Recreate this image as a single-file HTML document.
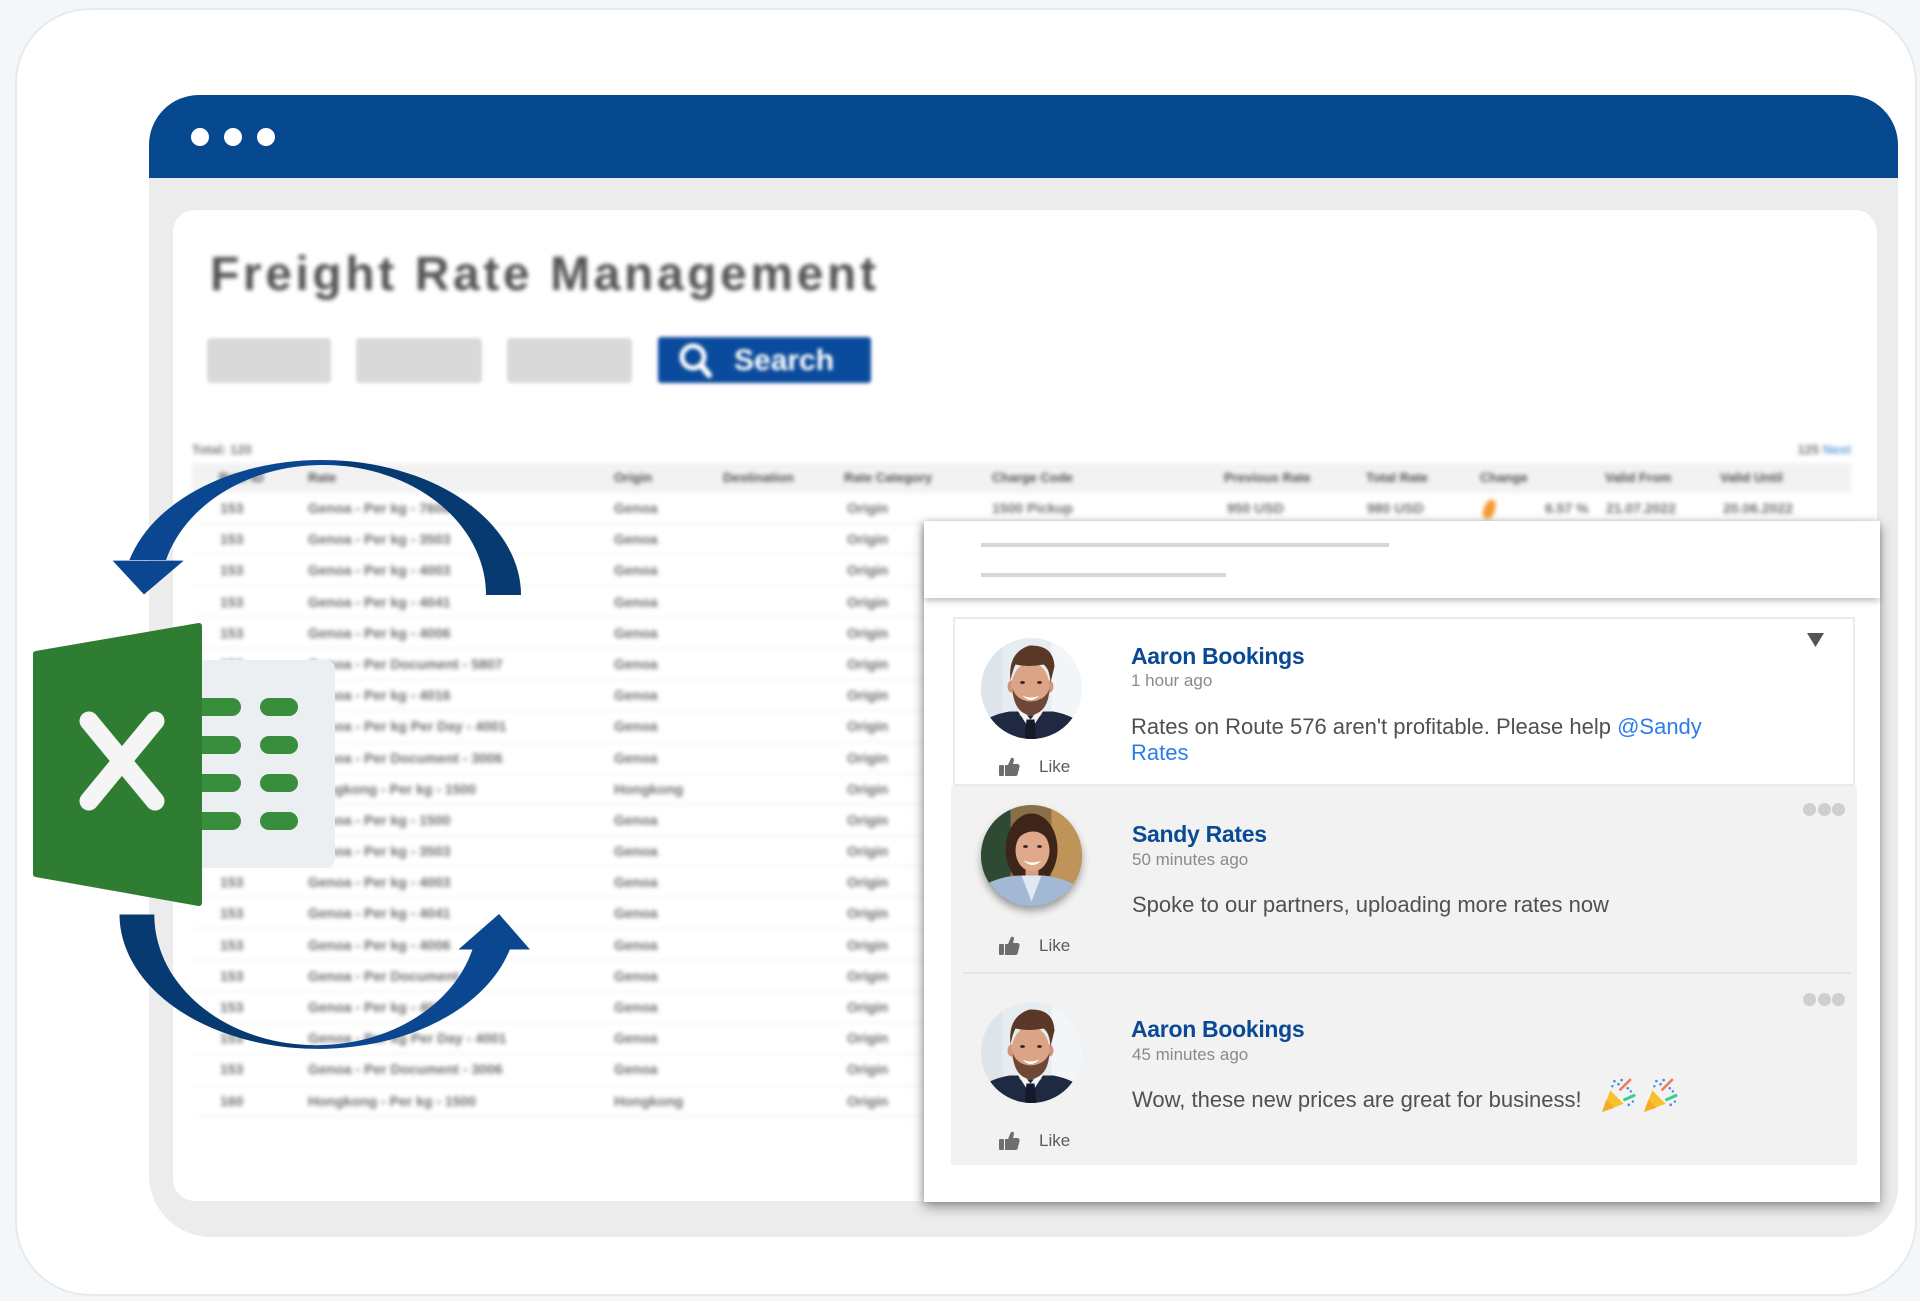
<!DOCTYPE html>
<html><head><meta charset="utf-8">
<style>
*{box-sizing:border-box;margin:0;padding:0}
html,body{width:1920px;height:1301px;overflow:hidden;background:#f4f7fa;font-family:"Liberation Sans",Arial,sans-serif;position:relative}
.a{position:absolute}
#outer{left:15px;top:8px;width:1902px;height:1288px;background:#fff;border:2px solid #e7eaed;border-radius:75px}
#body{left:149px;top:95px;width:1749px;height:1142px;background:#ececec;border-radius:50px 50px 50px 62px}
#hdr{left:149px;top:95px;width:1749px;height:83px;background:#05488e;border-radius:50px 50px 0 0}
.dot{width:18px;height:18px;border-radius:50%;background:#fff;top:128px}
#card{left:173px;top:210px;width:1704px;height:991px;background:#fff;border-radius:22px}
#title{left:210px;top:251px;font-size:48px;line-height:48px;font-weight:bold;letter-spacing:3.6px;color:#555;filter:blur(2px);white-space:nowrap}
.btn{background:#d9d9d9;border-radius:4px;height:45px;top:338px;filter:blur(1.5px)}
#search{left:658px;top:337px;width:213px;height:46px;background:#0b4b9d;border-radius:3px;filter:blur(1.8px)}
#tbl{left:192px;top:440px;width:1659px;height:700px;filter:blur(2.2px);color:#6e6e6e;font-weight:bold;font-size:14px}
#tbl .h{position:absolute;top:23px;left:0;width:1659px;height:30px;background:#f2f2f2}
#tbl .h span{position:absolute;top:0;line-height:30px;font-size:13px;color:#505050;white-space:nowrap}
.rows{position:absolute;left:0;top:53px;width:1659px}
.r{position:relative;height:31.2px;border-bottom:1px solid #ececec}
.r span{position:absolute;top:0;line-height:31px;white-space:nowrap}
.c0{left:28px}.c1{left:116px}.c2{left:422px}.c3{left:655px}
.panel{left:924px;top:521px;width:956px;height:681px;background:#fff;box-shadow:0 5px 12px rgba(0,0,0,.38),-2px 0 6px rgba(0,0,0,.15)}
.phead{left:924px;top:521px;width:956px;height:77px;background:#fff;box-shadow:0 4px 6px -1px rgba(0,0,0,.25)}
.line{background:#d6d6d6;height:4px;left:981px}
.nm{font-size:23px;line-height:23px;font-weight:bold;color:#0a4a94;letter-spacing:-0.3px;white-space:nowrap;left:1131px}
.tm{font-size:17px;line-height:17px;color:#8a8a8a;white-space:nowrap;left:1131px}
.msg{font-size:22px;line-height:26px;color:#505050;white-space:nowrap;left:1131px}
.like{font-size:17px;line-height:17px;color:#5a5a5a;left:1039px}
.gd{width:13px;height:13px;border-radius:50%;background:#cfcfcf}
</style></head>
<body>
<div id="outer" class="a"></div>
<div id="body" class="a"></div>
<div id="hdr" class="a"></div>
<div class="a dot" style="left:191px"></div>
<div class="a dot" style="left:224px"></div>
<div class="a dot" style="left:257px"></div>
<div id="card" class="a"></div>

<div id="title" class="a">Freight Rate Management</div>
<div class="a btn" style="left:207px;width:124px"></div>
<div class="a btn" style="left:356px;width:126px"></div>
<div class="a btn" style="left:507px;width:125px"></div>
<div id="search" class="a">
  <svg class="a" style="left:0;top:0" width="213" height="46"><circle cx="35" cy="20" r="11" fill="none" stroke="#fff" stroke-width="5"/><line x1="43" y1="28" x2="51" y2="38" stroke="#fff" stroke-width="6" stroke-linecap="round"/></svg>
  <div class="a" style="left:76px;top:9px;font-size:30px;line-height:30px;font-weight:bold;color:#fff">Search</div>
</div>

<div id="tbl" class="a">
  <div class="a" style="left:0;top:2px;font-size:13px;color:#7a7a7a;white-space:nowrap">Total: 120</div>
  <div class="a" style="right:0;top:2px;font-size:13px;color:#7a7a7a;white-space:nowrap">125 <span style="color:#6aa0dc">Next</span></div>
  <div class="h">
    <span style="left:27px">Rate ID</span><span style="left:116px">Rate</span><span style="left:422px">Origin</span><span style="left:531px">Destination</span><span style="left:652px">Rate Category</span><span style="left:800px">Charge Code</span><span style="left:1032px">Previous Rate</span><span style="left:1174px">Total Rate</span><span style="left:1288px">Change</span><span style="left:1413px">Valid From</span><span style="left:1528px">Valid Until</span>
  </div>
  <div class="rows">
    <div class="r"><span class="c0">153</span><span class="c1">Genoa - Per kg - 7608</span><span class="c2">Genoa</span><span class="c3">Origin</span><span style="left:800px">1500 Pickup</span><span style="left:1035px">950 USD</span><span style="left:1175px">980 USD</span><span style="left:1292px;top:6px;width:11px;height:20px;background:#f39a2e;border-radius:50% 50% 40% 40%;transform:rotate(20deg)"></span><span style="left:1353px">6.57 %</span><span style="left:1414px">21.07.2022</span><span style="left:1531px">20.06.2022</span></div>
    <div class="r"><span class="c0">153</span><span class="c1">Genoa - Per kg - 3503</span><span class="c2">Genoa</span><span class="c3">Origin</span></div>
    <div class="r"><span class="c0">153</span><span class="c1">Genoa - Per kg - 4003</span><span class="c2">Genoa</span><span class="c3">Origin</span></div>
    <div class="r"><span class="c0">153</span><span class="c1">Genoa - Per kg - 4041</span><span class="c2">Genoa</span><span class="c3">Origin</span></div>
    <div class="r"><span class="c0">153</span><span class="c1">Genoa - Per kg - 4006</span><span class="c2">Genoa</span><span class="c3">Origin</span></div>
    <div class="r"><span class="c0">153</span><span class="c1">Genoa - Per Document - 5807</span><span class="c2">Genoa</span><span class="c3">Origin</span></div>
    <div class="r"><span class="c0">153</span><span class="c1">Genoa - Per kg - 4016</span><span class="c2">Genoa</span><span class="c3">Origin</span></div>
    <div class="r"><span class="c0">153</span><span class="c1">Genoa - Per kg Per Day - 4001</span><span class="c2">Genoa</span><span class="c3">Origin</span></div>
    <div class="r"><span class="c0">153</span><span class="c1">Genoa - Per Document - 3006</span><span class="c2">Genoa</span><span class="c3">Origin</span></div>
    <div class="r"><span class="c0">153</span><span class="c1">Hongkong - Per kg - 1500</span><span class="c2">Hongkong</span><span class="c3">Origin</span></div>
    <div class="r"><span class="c0">153</span><span class="c1">Genoa - Per kg - 1500</span><span class="c2">Genoa</span><span class="c3">Origin</span></div>
    <div class="r"><span class="c0">153</span><span class="c1">Genoa - Per kg - 3503</span><span class="c2">Genoa</span><span class="c3">Origin</span></div>
    <div class="r"><span class="c0">153</span><span class="c1">Genoa - Per kg - 4003</span><span class="c2">Genoa</span><span class="c3">Origin</span></div>
    <div class="r"><span class="c0">153</span><span class="c1">Genoa - Per kg - 4041</span><span class="c2">Genoa</span><span class="c3">Origin</span></div>
    <div class="r"><span class="c0">153</span><span class="c1">Genoa - Per kg - 4006</span><span class="c2">Genoa</span><span class="c3">Origin</span></div>
    <div class="r"><span class="c0">153</span><span class="c1">Genoa - Per Document</span><span class="c2">Genoa</span><span class="c3">Origin</span></div>
    <div class="r"><span class="c0">153</span><span class="c1">Genoa - Per kg - 4016</span><span class="c2">Genoa</span><span class="c3">Origin</span></div>
    <div class="r"><span class="c0">153</span><span class="c1">Genoa - Per kg Per Day - 4001</span><span class="c2">Genoa</span><span class="c3">Origin</span></div>
    <div class="r"><span class="c0">153</span><span class="c1">Genoa - Per Document - 3006</span><span class="c2">Genoa</span><span class="c3">Origin</span></div>
    <div class="r"><span class="c0">160</span><span class="c1">Hongkong - Per kg - 1500</span><span class="c2">Hongkong</span><span class="c3">Origin</span></div>
  </div>
</div>

<!-- Excel icon + arrows -->
<svg class="a" style="left:0;top:0" width="920" height="1301">
  <defs>
    <linearGradient id="gt" gradientUnits="userSpaceOnUse" x1="120" y1="0" x2="525" y2="0">
      <stop offset="0" stop-color="#0b4690"/><stop offset="0.52" stop-color="#0b4690"/><stop offset="0.56" stop-color="#073a71"/><stop offset="1" stop-color="#073a71"/>
    </linearGradient>
    <linearGradient id="gb" gradientUnits="userSpaceOnUse" x1="115" y1="0" x2="515" y2="0">
      <stop offset="0" stop-color="#073a71"/><stop offset="0.46" stop-color="#073a71"/><stop offset="0.5" stop-color="#0b4690"/><stop offset="1" stop-color="#0b4690"/>
    </linearGradient>
  </defs>
  <path d="M521 595 A199.2 135 0 0 0 129.4 560 L166 560 A163 130 0 0 1 486 595 Z" fill="url(#gt)"/>
  <polygon points="112.6,560.6 183.7,560.6 144,594.5" fill="#0b4690"/>
  <path d="M119.5 914.5 A198.6 134.5 0 0 0 510 949 L472.6 949 A162 130.5 0 0 1 154.3 914.5 Z" fill="url(#gb)"/>
  <polygon points="458.4,949.5 530,949.5 499,914" fill="#0b4690"/>
  <rect x="190" y="660" width="145" height="208" rx="9" fill="#eceff1"/>
  <g fill="#388e3c">
    <rect x="190" y="698" width="51" height="18" rx="9"/>
    <rect x="190" y="736" width="51" height="18" rx="9"/>
    <rect x="190" y="774" width="51" height="18" rx="9"/>
    <rect x="190" y="812" width="51" height="18" rx="9"/>
    <rect x="260" y="698" width="38" height="18" rx="9"/>
    <rect x="260" y="736" width="38" height="18" rx="9"/>
    <rect x="260" y="774" width="38" height="18" rx="9"/>
    <rect x="260" y="812" width="38" height="18" rx="9"/>
  </g>
  <polygon points="36,654 199,626 199,903 36,874" fill="#2e7d32" stroke="#2e7d32" stroke-width="6" stroke-linejoin="round"/>
  <g stroke="#f5f5f5" stroke-width="19" stroke-linecap="round">
    <line x1="89" y1="721" x2="155" y2="801"/>
    <line x1="155" y1="721" x2="89" y2="801"/>
  </g>
</svg>

<!-- comments panel -->
<div class="a panel"></div>
<div class="a phead"></div>
<div class="a line" style="top:543px;width:408px"></div>
<div class="a line" style="top:573px;width:245px"></div>

<div class="a" style="left:953px;top:617px;width:902px;height:169px;background:#fff;border:2px solid #ebebeb"></div>
<div class="a" style="left:951px;top:786px;width:906px;height:379px;background:#f2f2f2"></div>
<div class="a" style="left:963px;top:972px;width:888px;height:2px;background:#e4e4e4"></div>

<!-- avatar 1 -->
<svg class="a" style="left:981px;top:638px" width="101" height="101" viewBox="-50.5 -50.5 101 101">
  <defs><clipPath id="cm1"><circle r="50.5"/></clipPath></defs>
  <g clip-path="url(#cm1)">
    <rect x="-51" y="-51" width="102" height="102" fill="#e7ecf1"/>
    <rect x="20" y="-51" width="31" height="102" fill="#f3f6f8"/>
    <rect x="-51" y="-51" width="22" height="102" fill="#dde4ea"/>
    <path d="M-52 51 L-50 36 Q-44 27 -22 23 L22 23 Q42 27 50 36 L52 51 Z" fill="#1f2a42"/>
    <path d="M-11 10 L9 10 L10 27 L-12 27 Z" fill="#c48a6e"/>
    <path d="M-14 22 L-1 42 L12 22 L8 20 L-1 31 L-10 20 Z" fill="#f4f4f4"/>
    <path d="M-5 31 L3 31 L5 51 L-7 51 Z" fill="#15192a"/>
    <ellipse cx="-20" cy="-2" rx="4" ry="6" fill="#cf957a"/>
    <ellipse cx="18" cy="-2" rx="4" ry="6" fill="#cf957a"/>
    <ellipse cx="-1" cy="-2" rx="19" ry="24" fill="#dba487"/>
    <path d="M-19 0 Q-18 24 -1 27 Q17 24 18 0 Q14 12 -1 13 Q-15 12 -19 0 Z" fill="#6f4736"/>
    <path d="M-9 7 Q-1 16 8 7 Q-1 11 -9 7 Z" fill="#fff"/>
    <path d="M-21 -8 Q-24 -36 -2 -43 Q22 -44 23 -22 L19 -6 Q18 -20 12 -24 Q-4 -21 -16 -24 Q-19 -18 -21 -8 Z" fill="#5a3826"/>
    <ellipse cx="-9" cy="-6" rx="2.5" ry="1.5" fill="#3a2a22"/>
    <ellipse cx="8" cy="-6" rx="2.5" ry="1.5" fill="#3a2a22"/>
  </g>
</svg>
<!-- avatar 2 -->
<div class="a" style="left:981px;top:805px;width:101px;height:101px;border-radius:50%;box-shadow:0 5px 8px rgba(0,0,0,.35)"></div>
<svg class="a" style="left:981px;top:805px" width="101" height="101" viewBox="-50.5 -50.5 101 101">
  <defs><clipPath id="cm2"><circle r="50.5"/></clipPath></defs>
  <g clip-path="url(#cm2)">
    <rect x="-51" y="-51" width="102" height="102" fill="#8a7048"/>
    <rect x="-51" y="-51" width="30" height="102" fill="#2f4a33"/>
    <rect x="20" y="-51" width="31" height="102" fill="#c09458"/>
    <ellipse cx="0" cy="-6" rx="26" ry="36" fill="#3e251a"/>
    <path d="M-6 10 L7 10 L7 24 L-6 24 Z" fill="#d39a7e"/>
    <path d="M-52 51 L-48 30 Q-30 20 -10 20 L12 20 Q32 22 48 32 L52 51 Z" fill="#a3b8d4"/>
    <path d="M-10 20 L0 46 L10 20 Z" fill="#dfe9f4"/>
    <ellipse cx="1" cy="-5" rx="17" ry="21" fill="#e0a98c"/>
    <path d="M-8 5 Q1 14 10 5 Q1 9 -8 5 Z" fill="#fff"/>
    <ellipse cx="-6" cy="-9" rx="2.5" ry="1.5" fill="#3a2a22"/>
    <ellipse cx="8" cy="-9" rx="2.5" ry="1.5" fill="#3a2a22"/>
    <path d="M-17 -12 Q-14 -28 2 -28 Q16 -27 19 -12 Q12 -24 2 -24 Q-10 -24 -17 -12 Z" fill="#3e251a"/>
  </g>
</svg>
<!-- avatar 3 -->
<svg class="a" style="left:981px;top:1002px" width="101" height="101" viewBox="-50.5 -50.5 101 101">
  <defs><clipPath id="cm3"><circle r="50.5"/></clipPath></defs>
  <g clip-path="url(#cm3)">
    <rect x="-51" y="-51" width="102" height="102" fill="#e7ecf1"/>
    <rect x="20" y="-51" width="31" height="102" fill="#f3f6f8"/>
    <rect x="-51" y="-51" width="22" height="102" fill="#dde4ea"/>
    <path d="M-52 51 L-50 36 Q-44 27 -22 23 L22 23 Q42 27 50 36 L52 51 Z" fill="#1f2a42"/>
    <path d="M-11 10 L9 10 L10 27 L-12 27 Z" fill="#c48a6e"/>
    <path d="M-14 22 L-1 42 L12 22 L8 20 L-1 31 L-10 20 Z" fill="#f4f4f4"/>
    <path d="M-5 31 L3 31 L5 51 L-7 51 Z" fill="#15192a"/>
    <ellipse cx="-20" cy="-2" rx="4" ry="6" fill="#cf957a"/>
    <ellipse cx="18" cy="-2" rx="4" ry="6" fill="#cf957a"/>
    <ellipse cx="-1" cy="-2" rx="19" ry="24" fill="#dba487"/>
    <path d="M-19 0 Q-18 24 -1 27 Q17 24 18 0 Q14 12 -1 13 Q-15 12 -19 0 Z" fill="#6f4736"/>
    <path d="M-9 7 Q-1 16 8 7 Q-1 11 -9 7 Z" fill="#fff"/>
    <path d="M-21 -8 Q-24 -36 -2 -43 Q22 -44 23 -22 L19 -6 Q18 -20 12 -24 Q-4 -21 -16 -24 Q-19 -18 -21 -8 Z" fill="#5a3826"/>
    <ellipse cx="-9" cy="-6" rx="2.5" ry="1.5" fill="#3a2a22"/>
    <ellipse cx="8" cy="-6" rx="2.5" ry="1.5" fill="#3a2a22"/>
  </g>
</svg>

<!-- comment 1 -->
<div class="a nm" style="top:644.5px">Aaron Bookings</div>
<div class="a tm" style="top:672px">1 hour ago</div>
<div class="a msg" style="top:714px">Rates on Route 576 aren't profitable. Please help <span style="color:#2b7de9">@Sandy</span><br><span style="color:#2b7de9">Rates</span></div>
<svg class="a" style="left:1807px;top:632px" width="18" height="16"><polygon points="0,1 17,1 8.5,15" fill="#555"/></svg>

<!-- comment 2 -->
<div class="a nm" style="top:822.5px;left:1132px">Sandy Rates</div>
<div class="a tm" style="top:851px;left:1132px">50 minutes ago</div>
<div class="a msg" style="top:892.4px;left:1132px">Spoke to our partners, uploading more rates now</div>
<div class="a gd" style="left:1803px;top:802.5px"></div>
<div class="a gd" style="left:1817.5px;top:802.5px"></div>
<div class="a gd" style="left:1832px;top:802.5px"></div>

<!-- comment 3 -->
<div class="a nm" style="top:1018px">Aaron Bookings</div>
<div class="a tm" style="top:1046px;left:1132px">45 minutes ago</div>
<div class="a msg" style="top:1086.7px;left:1132px">Wow, these new prices are great for business!</div>
<div class="a gd" style="left:1803px;top:992.5px"></div>
<div class="a gd" style="left:1817.5px;top:992.5px"></div>
<div class="a gd" style="left:1832px;top:992.5px"></div>

<!-- party poppers -->
<svg class="a" style="left:1600px;top:1078px" width="36" height="35" viewBox="0 0 35 34">
  <path d="M2 33 L10 12 L23 25 Z" fill="#f7c02d"/>
  <path d="M2 33 L6 21 L14 29 Z" fill="#f2a51f" opacity=".7"/>
  <path d="M19 12 L30 1" stroke="#ef7b62" stroke-width="2.5"/>
  <path d="M24 21 L33 17" stroke="#33cf98" stroke-width="3" stroke-linecap="round"/>
  <g fill="#4a8fe0"><circle cx="14" cy="3" r="1.3"/><circle cx="18" cy="6" r="1.3"/><circle cx="21" cy="2" r="1.3"/><circle cx="12" cy="8" r="1.2"/><circle cx="27" cy="10" r="1.3"/><circle cx="30" cy="13" r="1.2"/><circle cx="28" cy="26" r="1.3"/><circle cx="32" cy="23" r="1.2"/></g>
</svg>
<svg class="a" style="left:1642px;top:1078px" width="36" height="35" viewBox="0 0 35 34">
  <path d="M2 33 L10 12 L23 25 Z" fill="#f7c02d"/>
  <path d="M2 33 L6 21 L14 29 Z" fill="#f2a51f" opacity=".7"/>
  <path d="M19 12 L30 1" stroke="#ef7b62" stroke-width="2.5"/>
  <path d="M24 21 L33 17" stroke="#33cf98" stroke-width="3" stroke-linecap="round"/>
  <g fill="#4a8fe0"><circle cx="14" cy="3" r="1.3"/><circle cx="18" cy="6" r="1.3"/><circle cx="21" cy="2" r="1.3"/><circle cx="12" cy="8" r="1.2"/><circle cx="27" cy="10" r="1.3"/><circle cx="30" cy="13" r="1.2"/><circle cx="28" cy="26" r="1.3"/><circle cx="32" cy="23" r="1.2"/></g>
</svg>

<!-- likes -->
<svg class="a" style="left:999px;top:757px" width="21" height="19"><rect x="0" y="8" width="5" height="11" rx="1" fill="#6e6e6e"/><path d="M6 8 L9 8 L12 1 Q15 0 15 3 L14 7 L19 7 Q21 8 20.5 10 L18.5 18 Q18 19 16 19 L6 19 Z" fill="#6e6e6e"/></svg>
<div class="a like" style="top:758.4px">Like</div>
<svg class="a" style="left:999px;top:936px" width="21" height="19"><rect x="0" y="8" width="5" height="11" rx="1" fill="#6e6e6e"/><path d="M6 8 L9 8 L12 1 Q15 0 15 3 L14 7 L19 7 Q21 8 20.5 10 L18.5 18 Q18 19 16 19 L6 19 Z" fill="#6e6e6e"/></svg>
<div class="a like" style="top:937.2px">Like</div>
<svg class="a" style="left:999px;top:1131px" width="21" height="19"><rect x="0" y="8" width="5" height="11" rx="1" fill="#6e6e6e"/><path d="M6 8 L9 8 L12 1 Q15 0 15 3 L14 7 L19 7 Q21 8 20.5 10 L18.5 18 Q18 19 16 19 L6 19 Z" fill="#6e6e6e"/></svg>
<div class="a like" style="top:1131.7px">Like</div>
</body></html>
